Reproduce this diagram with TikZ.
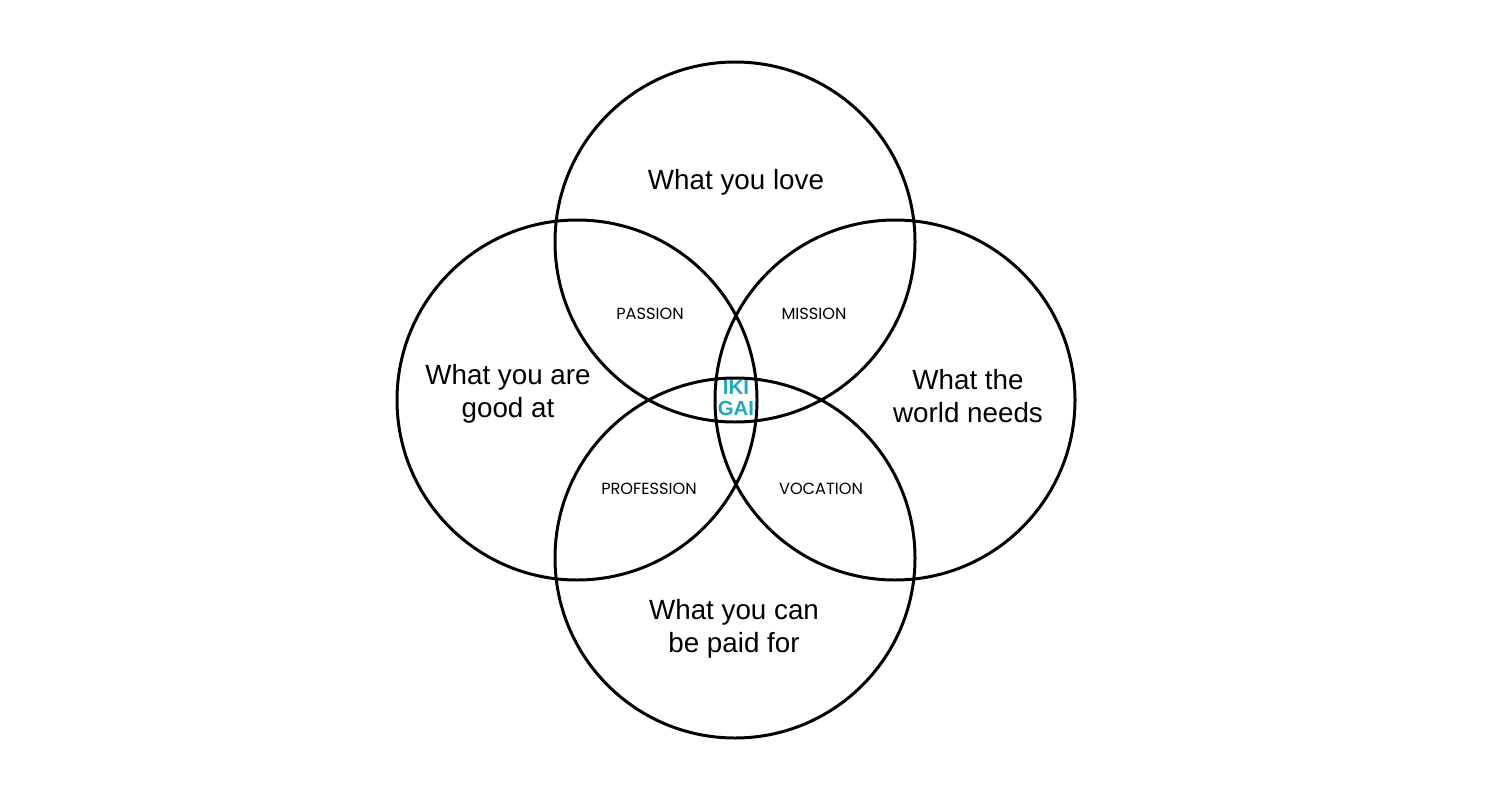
\documentclass[tikz,border=0pt]{standalone}
\usepackage{fontspec}
\setmainfont{Liberation Sans}
\newfontfamily\lblfont{Poppins}
\definecolor{teal1}{HTML}{1FA8C0}
\begin{document}
\begin{tikzpicture}[x=0.01cm,y=-0.01cm,
  circ/.style={draw=black,line width=0.85pt},
  big/.style={font=\fontsize{7.9}{9.3}\selectfont,align=center},
  small/.style={font=\lblfont\fontsize{4.6}{5}\selectfont}]
\useasboundingbox[fill=white] (0,0) rectangle (1500,800);
\draw[circ] (735,242) circle (180);
\draw[circ] (577,400) circle (180);
\draw[circ] (895,400) circle (180);
\draw[circ] (735,558) circle (180);
\node[big] (love) at (736,182) {What you love};
\node[big] (good) at (508,394) {What you are\\good at};
\node[big] (world) at (968,396) {What the\\world needs};
\node[big] (paid) at (734,629) {What you can\\be paid for};
\node[small] (passion) at (650,314) {PASSION};
\node[small] (mission) at (814,314) {MISSION};
\node[small] (prof) at (649,489) {PROFESSION};
\node[small] (voc) at (821,489) {VOCATION};
\node[font=\bfseries\fontsize{5.8}{5.8}\selectfont,text=teal1,align=center,inner sep=0pt] (ikigai) at (736,398) {IKI\\GAI};
\end{tikzpicture}
\end{document}
